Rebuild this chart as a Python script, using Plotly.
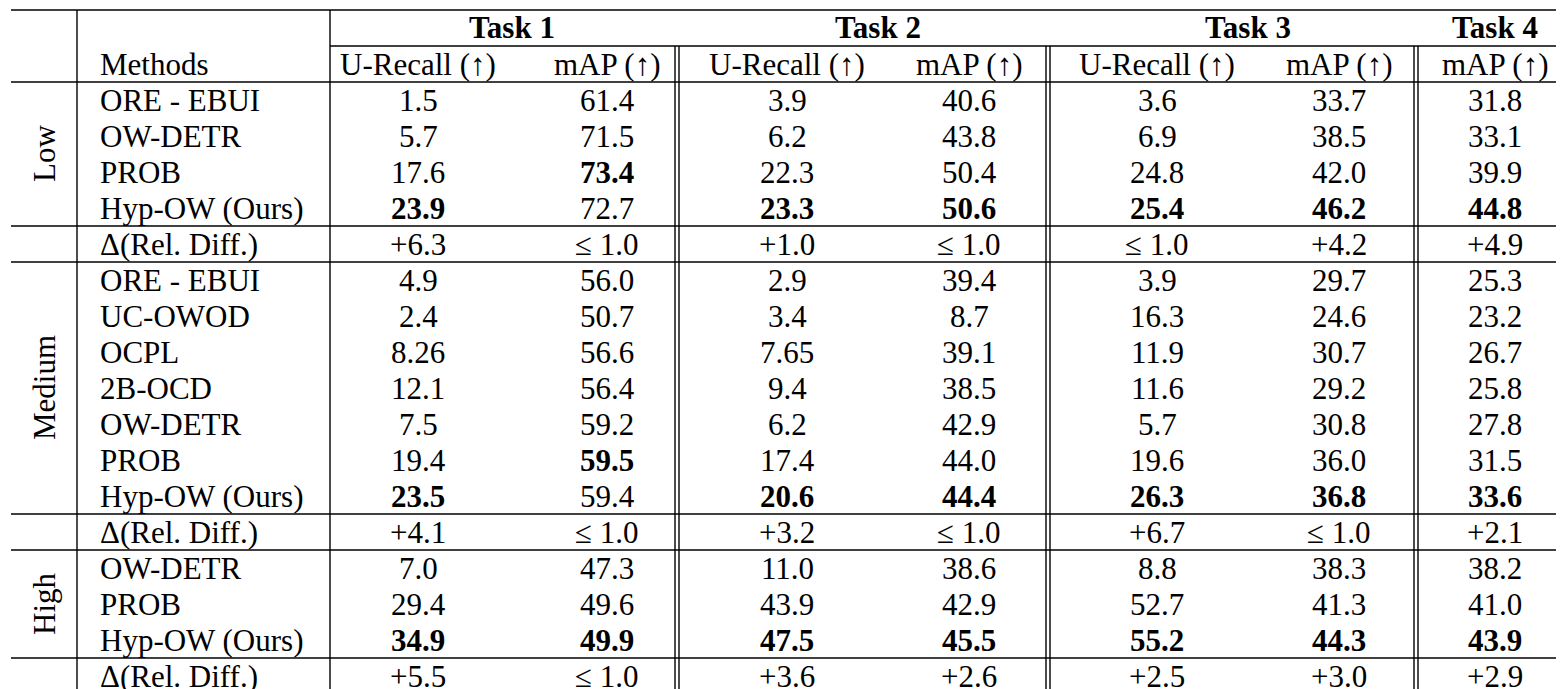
import plotly.graph_objects as go

groups = ["Low", "Medium", "High"]
tasks = ["Task 1", "Task 2", "Task 3", "Task 4"]
col_headers = ["U-Recall (↑)", "mAP (↑)", "U-Recall (↑)", "mAP (↑)", "U-Recall (↑)", "mAP (↑)", "mAP (↑)"]

low_methods = ["ORE - EBUI", "OW-DETR", "PROB", "Hyp-OW (Ours)"]
low_values = [
    ["1.5", "61.4", "3.9", "40.6", "3.6", "33.7", "31.8"],
    ["5.7", "71.5", "6.2", "43.8", "6.9", "38.5", "33.1"],
    ["17.6", "73.4", "22.3", "50.4", "24.8", "42.0", "39.9"],
    ["23.9", "72.7", "23.3", "50.6", "25.4", "46.2", "44.8"],
]
low_bold = [[0]*7, [0]*7, [0,1,0,0,0,0,0], [1,0,1,1,1,1,1]]
low_delta = ["+6.3", "≤ 1.0", "+1.0", "≤ 1.0", "≤ 1.0", "+4.2", "+4.9"]

med_methods = ["ORE - EBUI", "UC-OWOD", "OCPL", "2B-OCD", "OW-DETR", "PROB", "Hyp-OW (Ours)"]
med_values = [
    ["4.9", "56.0", "2.9", "39.4", "3.9", "29.7", "25.3"],
    ["2.4", "50.7", "3.4", "8.7", "16.3", "24.6", "23.2"],
    ["8.26", "56.6", "7.65", "39.1", "11.9", "30.7", "26.7"],
    ["12.1", "56.4", "9.4", "38.5", "11.6", "29.2", "25.8"],
    ["7.5", "59.2", "6.2", "42.9", "5.7", "30.8", "27.8"],
    ["19.4", "59.5", "17.4", "44.0", "19.6", "36.0", "31.5"],
    ["23.5", "59.4", "20.6", "44.4", "26.3", "36.8", "33.6"],
]
med_bold = [[0]*7]*5 + [[0,1,0,0,0,0,0], [1,0,1,1,1,1,1]]
med_delta = ["+4.1", "≤ 1.0", "+3.2", "≤ 1.0", "+6.7", "≤ 1.0", "+2.1"]

high_methods = ["OW-DETR", "PROB", "Hyp-OW (Ours)"]
high_values = [
    ["7.0", "47.3", "11.0", "38.6", "8.8", "38.3", "38.2"],
    ["29.4", "49.6", "43.9", "42.9", "52.7", "41.3", "41.0"],
    ["34.9", "49.9", "47.5", "45.5", "55.2", "44.3", "43.9"],
]
high_bold = [[0]*7, [0]*7, [1]*7]
high_delta = ["+5.5", "≤ 1.0", "+3.6", "+2.6", "+2.5", "+3.0", "+2.9"]

delta_label = "Δ(Rel. Diff.)"

# layout geometry (pixel-like coordinates)
W, H = 1564, 689
XL, XG, XM, XR = 3, 69, 322, 1560
col_x = [410, 599, 779, 961, 1149, 1331, 1487]
task_x = [504, 870, 1240, 1487]
dbl = [669, 1040, 1408]
Y_TOP, Y_TASK, Y_HDR, Y_BOT = 2, 38, 74, 686
y_task_txt, y_hdr_txt = 19, 56
step = 36
n_rows = [len(low_methods), len(med_methods), len(high_methods)]

FONT = "Liberation Serif"
FS = 31
ann = []
shapes = []

def txt(x, y, s, bold=False, anchor="center", angle=0, size=FS):
    ann.append(dict(x=x, y=y, xref="x", yref="y", text=f"<b>{s}</b>" if bold else s,
                    showarrow=False, xanchor=anchor, yanchor="middle", textangle=angle,
                    font=dict(family=FONT, size=size, color="black")))

def line(x0, y0, x1, y1, w=1.4):
    shapes.append(dict(type="line", xref="x", yref="y", x0=x0, y0=y0, x1=x1, y1=y1,
                       line=dict(color="black", width=w)))

for t, x in zip(tasks, task_x):
    txt(x, y_task_txt, t, bold=True)
txt(90, y_hdr_txt, "Methods", anchor="left")
for h, x in zip(col_headers, col_x):
    txt(x, y_hdr_txt, h)

line(XL, Y_TOP, XR, Y_TOP)
line(XM, Y_TASK, XR, Y_TASK)
line(XL, Y_HDR, XR, Y_HDR)

data = [
    (low_methods, low_values, low_bold, low_delta),
    (med_methods, med_values, med_bold, med_delta),
    (high_methods, high_values, high_bold, high_delta),
]
y0 = Y_HDR
for g, (meths, vals, bold, delta) in zip(groups, data):
    ys = [y0 + step / 2 + i * step for i in range(len(meths))]
    for m, row, b, y in zip(meths, vals, bold, ys):
        txt(90, y, m, anchor="left")
        for v, bb, x in zip(row, b, col_x):
            txt(x, y, v, bold=bool(bb))
    yl = y0 + len(meths) * step
    txt(36, (y0 + yl) / 2, g, angle=-90)
    yd = yl + step / 2
    txt(90, yd, delta_label, anchor="left")
    for v, x in zip(delta, col_x):
        txt(x, yd, v)
    line(XL, yl, XR, yl)
    y0 = yl + step
    line(XL, y0, XR, y0)

for x in (XG, XM):
    line(x, Y_TOP, x, Y_BOT)
for x in dbl:
    line(x - 2, Y_TASK, x - 2, Y_BOT)
    line(x + 2, Y_TASK, x + 2, Y_BOT)

fig = go.Figure()
fig.add_trace(go.Scatter(x=[0, W], y=[0, H], mode="markers", marker=dict(opacity=0), hoverinfo="skip"))
fig.update_layout(
    width=W, height=H, margin=dict(l=0, r=0, t=0, b=0),
    paper_bgcolor="white", plot_bgcolor="white", showlegend=False,
    xaxis=dict(range=[0, W], visible=False, fixedrange=True),
    yaxis=dict(range=[H, 0], visible=False, fixedrange=True),
    annotations=ann, shapes=shapes,
)
fig.write_html("out.html")
